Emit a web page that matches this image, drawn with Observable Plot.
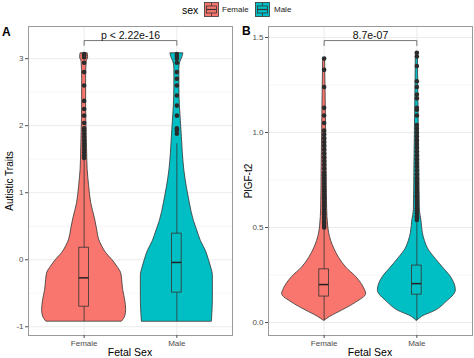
<!DOCTYPE html>
<html><head><meta charset="utf-8">
<script src="https://cdn.jsdelivr.net/npm/d3@7"></script>
<script src="https://cdn.jsdelivr.net/npm/@observablehq/plot@0.6"></script>
<style>
body{margin:0;background:#fff;font-family:"Liberation Sans",Arial,sans-serif;}
#root{position:relative;width:474px;height:358px;overflow:hidden;background:#fff;}
.abs{position:absolute;white-space:nowrap;line-height:1;}
.rot{transform:translate(-50%,-50%) rotate(-90deg);}
.ctr{transform:translate(-50%,-50%);}
</style></head><body><div id="root"></div>
<script>
// ---------- data ----------
const sexes = ["Female", "Male"];
const colors = ["#F8766D", "#00BFC4"];

// Panel A: Autistic Traits
const aTicks = [-1, 0, 1, 2, 3];
const aMinor = [-0.5, 0.5, 1.5, 2.5];
const aFemaleY = [-0.92,-0.85,-0.75,-0.6,-0.45,-0.3,-0.2,-0.1,0,0.1,0.2,0.3,0.45,0.6,0.85,1.1,1.35,1.6,1.9,2.3,2.7,2.95,3.02,3.08];
const aFemaleD = [38,41,42,41,39,38,37,33,28,22,18,15,13,11,7,5,3.5,3,2.5,2,2,2.5,4,3.5];
const aMaleY = [-0.92,-0.8,-0.6,-0.4,-0.24,-0.1,0,0.13,0.28,0.45,0.58,0.84,1.08,1.33,1.58,1.83,2.07,2.3,2.6,2.85,2.95,3.02,3.08];
const aMaleD = [35,35.5,36,36,36,34,32,29,24,20,17,13,10,7.5,6,5,4,3,2.5,2.5,3.5,5.5,6.5];
// box stats: [low whisker, q1, median, q3, high whisker]
const aFemaleBox = [-0.92, -0.70, -0.27, 0.18, 1.50];
const aMaleBox = [-0.92, -0.49, -0.04, 0.39, 1.73];
const aFemaleOut = [1.52,1.56,1.6,1.64,1.69,1.73,1.78,1.83,1.88,1.93,1.96,2.04,2.15,2.25,2.37,2.6,2.8,2.94,3.02,3.05,3.07];
const aMaleOut = [1.88,1.93,1.96,2.15,2.3,2.45,2.6,2.7,2.8,2.94,3.0,3.04,3.07];
const aBracket = {top: 3.27, foot: 3.2, label: "p < 2.22e-16"};

// Panel B: PlGF-t2
const bTicks = [0, 0.5, 1, 1.5];
const bMinor = [0.25, 0.75, 1.25];
const bFemaleY = [0.01,0.03,0.063,0.105,0.15,0.18,0.24,0.29,0.34,0.39,0.43,0.47,0.51,0.6,0.8,1.0,1.2,1.38];
const bFemaleD = [0.5,6,18,32,42,40,32,22,15,10,7,5,4,3,2.5,2,1.5,1];
const bMaleY = [0.01,0.03,0.063,0.105,0.17,0.24,0.29,0.34,0.39,0.43,0.47,0.54,0.59,0.8,1.0,1.2,1.42];
const bMaleD = [0.5,5,19,29,39,34,26,18,11,8,6,4.5,3,2.5,2,1.5,1];
const bFemaleBox = [0.01, 0.137, 0.20, 0.28, 0.495];
const bMaleBox = [0.01, 0.147, 0.205, 0.30, 0.53];
const bFemaleOut = [0.5,0.51,0.52,0.53,0.545,0.555,0.57,0.58,0.595,0.61,0.62,0.635,0.65,0.66,0.675,0.69,0.7,0.715,0.73,0.745,0.76,0.775,0.79,0.81,0.83,0.85,0.87,0.89,0.91,0.93,0.95,0.97,0.99,1.01,1.05,1.09,1.13,1.24,1.33,1.39];
const bMaleOut = [0.54,0.55,0.56,0.575,0.59,0.6,0.615,0.63,0.645,0.66,0.67,0.685,0.7,0.715,0.73,0.745,0.76,0.78,0.8,0.82,0.84,0.86,0.88,0.9,0.92,0.94,0.96,0.98,1.0,1.02,1.04,1.09,1.12,1.13,1.18,1.2,1.24,1.27,1.35,1.4,1.42];
const bBracket = {top: 1.484, foot: 1.458, label: "8.7e-07"};

// ---------- drawing ----------
const FONT = "'Liberation Sans', Arial, sans-serif";
const DENS = 0.453 / 42;   // density units -> x units
const BOXW = 0.052;

function panel(o) {
  const vData = o.violins.flatMap((v, i) =>
    v.y.map((y, j) => ({sex: sexes[i], y, x1: (i + 1) - DENS * v.d[j], x2: (i + 1) + DENS * v.d[j]})));
  const boxes = o.boxes.map((b, i) => ({sex: sexes[i], x: i + 1, lo: b[0], q1: b[1], med: b[2], q3: b[3], hi: b[4]}));
  const pts = o.outliers.flatMap((arr, i) => arr.map(y => ({x: i + 1, y})));
  const br = o.bracket;
  const brLine = [{x: 1, y: br.foot}, {x: 1, y: br.top}, {x: 2, y: br.top}, {x: 2, y: br.foot}];
  return Plot.plot({
    width: o.width, height: 358,
    marginLeft: o.marginLeft, marginRight: o.marginRight, marginTop: 26, marginBottom: 23,
    x: {domain: [0.4, 2.6]},
    y: {domain: o.yDomain},
    color: {domain: sexes, range: colors},
    style: {fontFamily: FONT, background: "transparent", overflow: "visible"},
    marks: [
      Plot.ruleY(o.minor, {stroke: "#f2f2f2", strokeWidth: 0.7}),
      Plot.ruleY(o.ticks, {stroke: "#ebebeb", strokeWidth: 1}),
      Plot.ruleX([1, 2], {stroke: "#ebebeb", strokeWidth: 1}),
      Plot.areaX(vData, {y: "y", x1: "x1", x2: "x2", z: "sex", fill: "sex", stroke: "#333", strokeWidth: 0.8, curve: "monotone-y"}),
      Plot.ruleX(boxes, {x: "x", y1: "lo", y2: "q1", stroke: "#333", strokeWidth: 0.8}),
      Plot.ruleX(boxes, {x: "x", y1: "q3", y2: "hi", stroke: "#333", strokeWidth: 0.8}),
      Plot.rect(boxes, {x1: d => d.x - BOXW, x2: d => d.x + BOXW, y1: "q1", y2: "q3", fill: "none", stroke: "#333", strokeWidth: 0.8}),
      Plot.ruleY(boxes, {y: "med", x1: d => d.x - BOXW, x2: d => d.x + BOXW, stroke: "#222", strokeWidth: 1.5}),
      Plot.dot(pts, {x: "x", y: "y", r: 2.3, fill: "#2b2b2b", stroke: "none"}),
      Plot.line(brLine, {x: "x", y: "y", stroke: "#555", strokeWidth: 0.8}),
      Plot.text([br], {x: () => 1.5, y: "top", text: "label", lineAnchor: "bottom", dy: -2, fontSize: 10.5, fill: "#111", fontFamily: FONT}),
      Plot.frame({stroke: "#9a9a9a", strokeWidth: 1}),
      Plot.axisY(o.ticks, {tickSize: 3, tickPadding: 2, tickFormat: o.yFormat, label: null, fontSize: 8, color: "#4d4d4d"}),
      Plot.axisX([1, 2], {tickSize: 3, tickPadding: 2, tickFormat: i => sexes[i - 1], label: null, fontSize: 8, color: "#4d4d4d"})
    ]
  });
}

const root = document.getElementById("root");
function place(el, left, top) {
  const d = document.createElement("div");
  d.style.position = "absolute"; d.style.left = left + "px"; d.style.top = top + "px";
  d.appendChild(el); root.appendChild(d);
}
function label(text, left, top, cls, css) {
  const d = document.createElement("div");
  d.className = "abs " + cls; d.textContent = text;
  d.style.left = left + "px"; d.style.top = top + "px";
  Object.assign(d.style, css || {});
  root.appendChild(d);
}

place(panel({
  width: 237, marginLeft: 28, marginRight: 5,
  yDomain: [-1.13, 3.48], ticks: aTicks, minor: aMinor, yFormat: d => String(d),
  violins: [{y: aFemaleY, d: aFemaleD}, {y: aMaleY, d: aMaleD}],
  boxes: [aFemaleBox, aMaleBox], outliers: [aFemaleOut, aMaleOut], bracket: aBracket
}), 0, 0);

place(panel({
  width: 237, marginLeft: 31, marginRight: 2,
  yDomain: [-0.068, 1.558], ticks: bTicks, minor: bMinor, yFormat: d => d.toFixed(1),
  violins: [{y: bFemaleY, d: bFemaleD}, {y: bMaleY, d: bMaleD}],
  boxes: [bFemaleBox, bMaleBox], outliers: [bFemaleOut, bMaleOut], bracket: bBracket
}), 237, 0);

// titles
label("A", 2, 26, "", {fontSize: "12px", fontWeight: "bold"});
label("B", 242, 25, "", {fontSize: "12px", fontWeight: "bold"});
label("Autistic Traits", 10, 181, "rot", {fontSize: "10px"});
label("PlGF-t2", 249, 181, "rot", {fontSize: "10px"});
label("Fetal Sex", 130, 352, "ctr", {fontSize: "10.5px"});
label("Fetal Sex", 370, 352, "ctr", {fontSize: "10.5px"});

// legend
label("sex", 182, 10, "", {fontSize: "10.5px", transform: "translateY(-50%)"});
function key(color, left) {
  const ns = "http://www.w3.org/2000/svg";
  const s = document.createElementNS(ns, "svg");
  s.setAttribute("width", 15); s.setAttribute("height", 15);
  s.style.position = "absolute"; s.style.left = left + "px"; s.style.top = "2px";
  s.innerHTML = `<rect x="0.5" y="0.5" width="14" height="14" fill="${color}" stroke="#333" stroke-width="0.8"/>
   <rect x="2.5" y="4" width="10" height="7" fill="none" stroke="#333" stroke-width="0.8"/>
   <line x1="2.5" x2="12.5" y1="7.5" y2="7.5" stroke="#333" stroke-width="1.2"/>
   <line x1="7.5" x2="7.5" y1="1" y2="4" stroke="#333" stroke-width="0.8"/>
   <line x1="7.5" x2="7.5" y1="11" y2="14" stroke="#333" stroke-width="0.8"/>`;
  root.appendChild(s);
}
key(colors[0], 204);
label("Female", 222, 10, "", {fontSize: "8px", color: "#222", transform: "translateY(-50%)"});
key(colors[1], 255);
label("Male", 274, 10, "", {fontSize: "8px", color: "#222", transform: "translateY(-50%)"});
</script>
</body></html>
